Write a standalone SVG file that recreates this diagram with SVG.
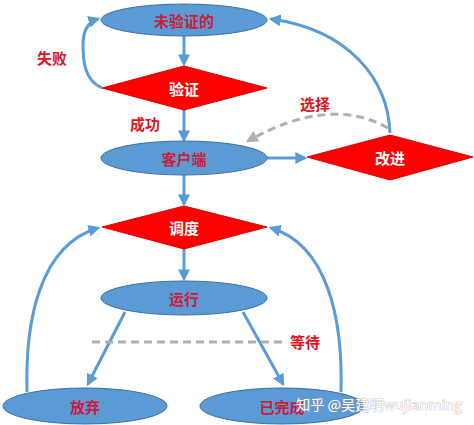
<svg xmlns="http://www.w3.org/2000/svg" width="474" height="425" viewBox="0 0 474 425">
<defs>
<marker id="ah" viewBox="0 0 10 10" refX="8" refY="5" markerWidth="4" markerHeight="4" orient="auto" markerUnits="strokeWidth"><path d="M0,0 L10,5 L0,10 Z" fill="#5b9bd5"/></marker>
<marker id="ahg" viewBox="0 0 10 10" refX="8" refY="5" markerWidth="4" markerHeight="4" orient="auto" markerUnits="strokeWidth"><path d="M0,0 L10,5 L0,10 Z" fill="#b0b0b0"/></marker>
</defs>
<style>
.ell{fill:#5b9bd5;stroke:#41719c;stroke-width:1}
.dia{fill:#ff0000;stroke:#e00000;stroke-width:1}
.et{font-family:"Noto Sans CJK SC","Noto Sans",sans-serif;font-size:15px;font-weight:bold;fill:#cc1a38;text-anchor:middle;dominant-baseline:central}
.dt{font-family:"Noto Sans CJK SC","Noto Sans",sans-serif;font-size:15px;font-weight:bold;fill:#ffffff;text-anchor:middle;dominant-baseline:central}
.lb{font-family:"Noto Sans CJK SC","Noto Sans",sans-serif;font-size:15px;font-weight:bold;fill:#e0141e;text-anchor:middle;dominant-baseline:central}
.c{fill:none;stroke:#5b9bd5;stroke-width:3;marker-end:url(#ah)}
.g{fill:none;stroke:#b0b0b0;stroke-width:3;stroke-dasharray:8,5}
.wm{font-family:"Noto Sans CJK SC","Noto Sans",sans-serif;font-size:14px;fill:#ffffff;stroke:#9a9a9a;stroke-width:0.6;paint-order:stroke}
</style>
<rect width="474" height="425" fill="#ffffff"/>
<g id="connectors">
<path class="c" d="M184,36 L184,64"/>
<path class="c" d="M102,88 C84,80 83,60 83,45 C83,30 88,22 98,19"/>
<path class="c" d="M184,109 L184,140"/>
<path class="c" d="M267,158 L305,158"/>
<path class="c" d="M390,133 C388,80 350,30 271,19"/>
<path class="g" d="M388,128 Q330,95 248,141" marker-end="url(#ahg)"/>
<path class="c" d="M184,175 L184,204"/>
<path class="c" d="M184,248 L184,279"/>
<path class="c" d="M125,312 L88,384"/>
<path class="c" d="M243,312 L283,384"/>
<path class="g" d="M92,342 L285,342"/>
<path class="c" d="M27,392 C25,320 40,245 98,228"/>
<path class="c" d="M341,392 C343,320 328,245 271,228"/>
</g>
<g id="n-unverified"><ellipse class="ell" cx="184" cy="20" rx="83" ry="16"/><text class="et" x="184" y="20">未验证的</text></g>
<g id="n-verify"><polygon class="dia" points="184,66 267,88 184,110 102,88"/><text class="dt" x="184" y="88">验证</text></g>
<g id="n-client"><ellipse class="ell" cx="184" cy="158" rx="83" ry="17"/><text class="et" x="184" y="158">客户端</text></g>
<g id="n-improve"><polygon class="dia" points="390,135 473,157 390,180 307,157"/><text class="dt" x="390" y="157">改进</text></g>
<g id="n-schedule"><polygon class="dia" points="184,206 267,227 184,249 102,227"/><text class="dt" x="184" y="227">调度</text></g>
<g id="n-run"><ellipse class="ell" cx="184" cy="298" rx="83" ry="17"/><text class="et" x="184" y="298">运行</text></g>
<g id="n-abandon"><ellipse class="ell" cx="85" cy="406" rx="82" ry="18"/><text class="et" x="85" y="406">放弃</text></g>
<g id="n-done"><ellipse class="ell" cx="282" cy="406" rx="82" ry="18"/><text class="et" x="282" y="406">已完成</text></g>
<g id="labels">
<text class="lb" x="52" y="57">失败</text>
<text class="lb" x="145" y="123">成功</text>
<text class="lb" x="315" y="103">选择</text>
<text class="lb" x="305" y="341">等待</text>
</g>
<text class="wm" x="296" y="410" textLength="166" lengthAdjust="spacingAndGlyphs">知乎 @吴建明wujianming</text>
</svg>
